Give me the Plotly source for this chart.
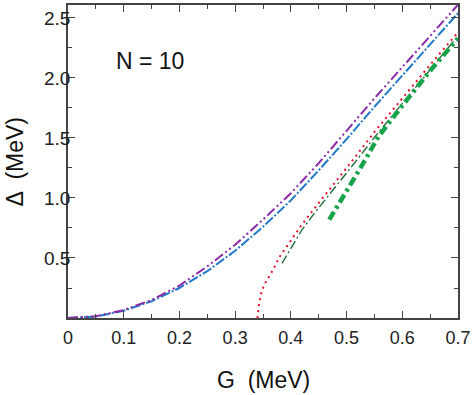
import plotly.graph_objects as go

# Purple dash-dot-dot curve
g_purple = [0, 0.05, 0.1, 0.15, 0.2, 0.25, 0.3, 0.35, 0.4, 0.45, 0.5, 0.55, 0.6, 0.65, 0.7]
d_purple = [0, 0.015, 0.066, 0.15, 0.27, 0.43, 0.61, 0.82, 1.04, 1.29, 1.56, 1.83, 2.09, 2.35, 2.61]

# Blue long-dash curve
g_blue = [0, 0.05, 0.1, 0.15, 0.2, 0.25, 0.3, 0.35, 0.4, 0.45, 0.5, 0.55, 0.6, 0.65, 0.7]
d_blue = [0, 0.012, 0.06, 0.14, 0.25, 0.39, 0.56, 0.76, 0.98, 1.23, 1.49, 1.76, 2.02, 2.28, 2.54]

# Red dotted curve
g_red = [0.340, 0.341, 0.343, 0.345, 0.348, 0.355, 0.363, 0.38, 0.40, 0.42, 0.44, 0.46, 0.48, 0.50, 0.52, 0.55, 0.6, 0.65, 0.7]
d_red = [0, 0.06, 0.12, 0.17, 0.23, 0.30, 0.36, 0.51, 0.65, 0.78, 0.90, 1.015, 1.13, 1.25, 1.37, 1.55, 1.83, 2.11, 2.38]

# Thin green dash-dot curve
g_thin = [0.384, 0.40, 0.42, 0.44, 0.46, 0.48, 0.50, 0.52, 0.55, 0.6, 0.65, 0.7]
d_thin = [0.455, 0.585, 0.735, 0.86, 0.975, 1.09, 1.205, 1.325, 1.505, 1.785, 2.065, 2.35]

# Thick green dash-dot curve
g_thick = [0.469, 0.48, 0.49, 0.512, 0.53, 0.557, 0.6, 0.628, 0.65, 0.7]
d_thick = [0.82, 0.90, 0.98, 1.15, 1.29, 1.51, 1.77, 1.93, 2.06, 2.33]

x_ticks = [0, 0.1, 0.2, 0.3, 0.4, 0.5, 0.6, 0.7]
x_labels = ["0", "0.1", "0.2", "0.3", "0.4", "0.5", "0.6", "0.7"]
y_ticks = [0.5, 1.0, 1.5, 2.0, 2.5]
y_labels = ["0.5", "1.0", "1.5", "2.0", "2.5"]

FONT = "Liberation Sans"

fig = go.Figure()
fig.add_trace(go.Scatter(x=g_blue, y=d_blue, mode="lines",
                         line=dict(color="#1f78c8", width=2, dash="10px,2px,2px,2px")))
fig.add_trace(go.Scatter(x=g_purple, y=d_purple, mode="lines",
                         line=dict(color="#8a2aa8", width=2, dash="10px,3px,2px,3px,2px,3px")))
fig.add_trace(go.Scatter(x=g_red, y=d_red, mode="lines",
                         line=dict(color="#e8102a", width=2, dash="2px,4px")))
fig.add_trace(go.Scatter(x=g_thin, y=d_thin, mode="lines",
                         line=dict(color="#17642e", width=1.3, dash="9px,3px,2px,3px")))
fig.add_trace(go.Scatter(x=g_thick, y=d_thick, mode="lines",
                         line=dict(color="#17a34a", width=4.5, dash="9px,4px,3px,4px")))

fig.add_annotation(x=0.147, y=2.14, text="N = 10", showarrow=False,
                   font=dict(family=FONT, size=23, color="#111"))
fig.add_annotation(xref="paper", yref="paper", x=0.5, y=-0.198, text="G  (MeV)",
                   showarrow=False, yanchor="middle",
                   font=dict(family=FONT, size=23, color="#111"))
fig.add_annotation(xref="paper", yref="paper", x=-0.136, y=0.5, text="Δ  (MeV)",
                   showarrow=False, textangle=-90, xanchor="center",
                   font=dict(family=FONT, size=23, color="#111"))

axis_common = dict(showline=True, linecolor="#444", linewidth=1.5, mirror="allticks",
                   ticks="inside", ticklen=7, tickwidth=1.3, tickcolor="#444",
                   showgrid=False, zeroline=False, automargin=False)

fig.update_xaxes(range=[0, 0.7], tickvals=x_ticks, ticktext=x_labels,
                 minor=dict(dtick=0.05, ticks="inside", ticklen=4, tickcolor="#444", tickwidth=1.2),
                 tickfont=dict(family=FONT, size=18, color="#222"), ticklabelstandoff=3,
                 **axis_common)
fig.update_yaxes(range=[0, 2.608], tickvals=y_ticks, ticktext=y_labels,
                 minor=dict(dtick=0.25, ticks="inside", ticklen=4, tickcolor="#444", tickwidth=1.2),
                 tickfont=dict(family=FONT, size=19, color="#222"), ticklabelstandoff=-8,
                 **axis_common)

fig.update_layout(width=474, height=395, margin=dict(l=68, r=16, t=5, b=77),
                  plot_bgcolor="white", paper_bgcolor="white", showlegend=False)

fig.write_html("out.html", config={"displayModeBar": False},
               post_script="document.body.style.margin='0';document.body.style.overflow='hidden';")
